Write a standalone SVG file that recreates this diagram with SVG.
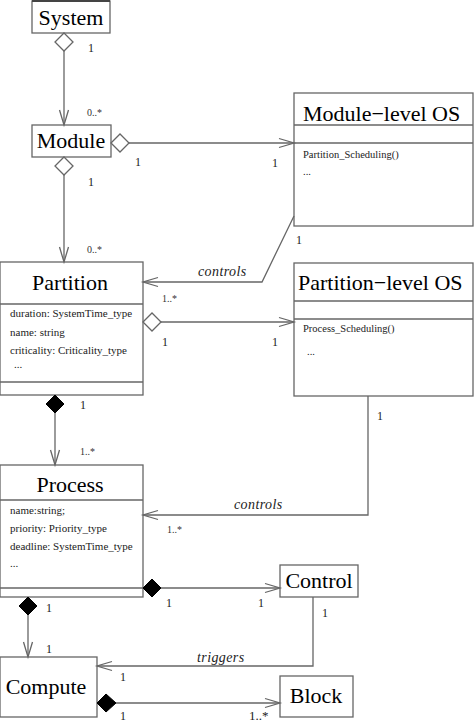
<svg xmlns="http://www.w3.org/2000/svg" width="474" height="722" viewBox="0 0 474 722" font-family="'Liberation Serif', serif">
<defs>
<marker id="arr" markerUnits="userSpaceOnUse" markerWidth="20" markerHeight="14" viewBox="-16 -7 18 14" refX="0" refY="0" orient="auto">
<path d="M -15 -4.5 L 0 0 L -15 4.5" fill="none" stroke="#666" stroke-width="1.3"/>
</marker>
</defs>

<g id="System">
<rect x="32" y="1" width="78" height="32" fill="#fff" stroke="#666" stroke-width="1.3"/>
<line x1="32" y1="1" x2="110" y2="1" stroke="#444" stroke-width="2"/>
<text x="71" y="25" font-family="'Liberation Serif', serif" font-size="22" text-anchor="middle" fill="#000">System</text>
</g>

<g id="Module">
<rect x="32" y="125" width="79" height="32" fill="#fff" stroke="#666" stroke-width="1.3"/>
<text x="71" y="148" font-family="'Liberation Serif', serif" font-size="22" text-anchor="middle" fill="#000">Module</text>
</g>

<g id="ModuleLevelOS">
<g fill="#fff" stroke="#666" stroke-width="1.3">
<rect x="294" y="93" width="179" height="133"/>
<line x1="294" y1="125" x2="473" y2="125"/>
<line x1="294" y1="143" x2="473" y2="143"/>
</g>
<text x="303" y="121" font-family="'Liberation Serif', serif" font-size="22" fill="#000">Module−level OS</text>
<g font-family="'Liberation Serif', serif" font-size="10.5" fill="#222">
<text x="303" y="158">Partition_Scheduling()</text>
<text x="303" y="175">...</text>
</g>
</g>

<g id="Partition">
<g fill="#fff" stroke="#666" stroke-width="1.3">
<rect x="0" y="262" width="143" height="133"/>
<line x1="0" y1="304" x2="143" y2="304"/>
<line x1="0" y1="382" x2="143" y2="382"/>
</g>
<text x="70" y="290" font-family="'Liberation Serif', serif" font-size="22" text-anchor="middle" fill="#000">Partition</text>
<g font-family="'Liberation Serif', serif" font-size="11" fill="#222">
<text x="10" y="317">duration: SystemTime_type</text>
<text x="10" y="336">name: string</text>
<text x="10" y="354">criticality: Criticality_type</text>
<text x="14" y="368">...</text>
</g>
</g>

<g id="PartitionLevelOS">
<g fill="#fff" stroke="#666" stroke-width="1.3">
<rect x="294" y="263" width="179" height="133"/>
<line x1="294" y1="301" x2="473" y2="301"/>
<line x1="294" y1="319" x2="473" y2="319"/>
</g>
<text x="298" y="290" font-family="'Liberation Serif', serif" font-size="22" fill="#000">Partition−level OS</text>
<g font-family="'Liberation Serif', serif" font-size="10.5" fill="#222">
<text x="303" y="332">Process_Scheduling()</text>
<text x="307" y="355">...</text>
</g>
</g>

<g id="Process">
<g fill="#fff" stroke="#666" stroke-width="1.3">
<rect x="0" y="465" width="143" height="132"/>
<line x1="0" y1="500" x2="143" y2="500"/>
<line x1="0" y1="588" x2="143" y2="588"/>
</g>
<text x="70" y="492" font-family="'Liberation Serif', serif" font-size="22" text-anchor="middle" fill="#000">Process</text>
<g font-family="'Liberation Serif', serif" font-size="11" fill="#222">
<text x="10" y="514">name:string;</text>
<text x="10" y="532">priority: Priority_type</text>
<text x="10" y="550">deadline: SystemTime_type</text>
<text x="10" y="567">...</text>
</g>
</g>

<g id="Control">
<rect x="280" y="565" width="78" height="32" fill="#fff" stroke="#666" stroke-width="1.3"/>
<text x="319" y="588" font-family="'Liberation Serif', serif" font-size="22" text-anchor="middle" fill="#000">Control</text>
</g>

<g id="Compute">
<rect x="0" y="657" width="97" height="60" fill="#fff" stroke="#666" stroke-width="1.3"/>
<text x="46" y="694" font-family="'Liberation Serif', serif" font-size="22" text-anchor="middle" fill="#000">Compute</text>
</g>

<g id="Block">
<rect x="280" y="676" width="73" height="41" fill="#fff" stroke="#666" stroke-width="1.3"/>
<text x="316" y="703" font-family="'Liberation Serif', serif" font-size="22" text-anchor="middle" fill="#000">Block</text>
</g>

<g id="connectors">
<g fill="none" stroke="#666" stroke-width="1.3" marker-end="url(#arr)">
<line x1="64" y1="51" x2="64" y2="125"/>
<line x1="129" y1="143" x2="294" y2="143"/>
<line x1="64" y1="175" x2="64" y2="262"/>
<polyline points="294,216 262,282 143,282"/>
<line x1="161" y1="322" x2="294" y2="322"/>
<polyline points="368,396 368,515 143,515"/>
<line x1="55" y1="413" x2="55" y2="465"/>
<line x1="161" y1="588" x2="280" y2="588"/>
<line x1="28" y1="615" x2="28" y2="657"/>
<polyline points="313,597 313,666 97,666"/>
<line x1="116" y1="703" x2="280" y2="703"/>
</g>
<g fill="#fff" stroke="#666" stroke-width="1.3">
<polygon points="64,33 73,42 64,51 55,42"/>
<polygon points="111,143 120,134 129,143 120,152"/>
<polygon points="64,157 73,166 64,175 55,166"/>
<polygon points="143,322 152,313 161,322 152,331"/>
</g>
<g fill="#000" stroke="#000" stroke-width="1">
<polygon points="55,395 64,404 55,413 46,404"/>
<polygon points="143,588 152,579 161,588 152,597"/>
<polygon points="28,597 37,606 28,615 19,606"/>
<polygon points="97,703 106,694 116,703 106,712"/>
</g>
<g font-family="'Liberation Serif', serif" font-size="12" fill="#222">
<text x="88" y="52">1</text>
<text x="135" y="166">1</text>
<text x="272" y="167">1</text>
<text x="88" y="186">1</text>
<text x="296" y="244">1</text>
<text x="162" y="346">1</text>
<text x="272" y="346">1</text>
<text x="377" y="420">1</text>
<text x="80" y="409">1</text>
<text x="166" y="607">1</text>
<text x="258" y="607">1</text>
<text x="46" y="612">1</text>
<text x="46" y="653">1</text>
<text x="322" y="617">1</text>
<text x="120" y="681">1</text>
<text x="120" y="720">1</text>
<text x="249" y="720" font-size="13">1..*</text>
</g>
<g font-family="'Liberation Serif', serif" font-size="10" fill="#333">
<text x="87" y="116">0..*</text>
<text x="87" y="253">0..*</text>
<text x="162" y="302">1..*</text>
<text x="167" y="533">1..*</text>
<text x="80" y="455">1..*</text>
</g>
<g font-family="'Liberation Serif', serif" font-size="14" font-style="italic" letter-spacing="0.4" fill="#222">
<text x="198" y="276">controls</text>
<text x="234" y="509">controls</text>
<text x="197" y="662">triggers</text>
</g>
</g>
</svg>
